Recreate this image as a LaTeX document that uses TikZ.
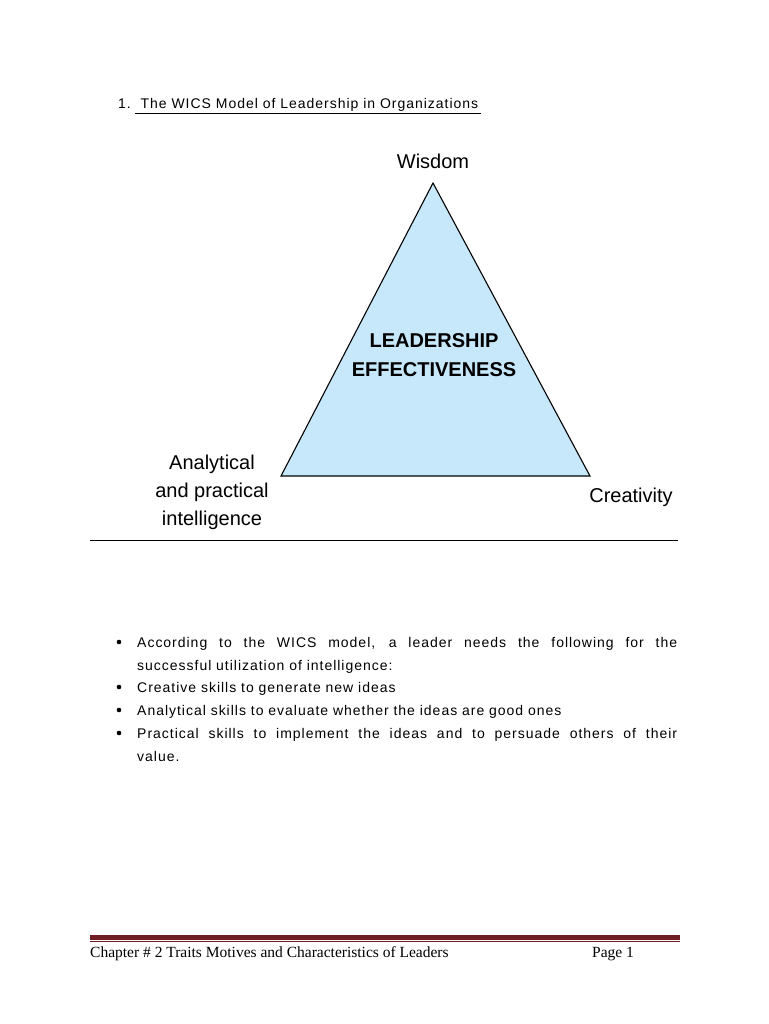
\documentclass[tikz,border=0pt]{standalone}
\usepackage{fontspec}
\setmainfont{Liberation Sans}
\newfontfamily\serifft{Liberation Serif}
\newfontfamily\spaced[LetterSpace=7]{Liberation Sans}
\definecolor{tri}{RGB}{198,232,250}
\definecolor{dred}{RGB}{110,30,35}
\tikzset{body/.style={anchor=base west,inner sep=0pt,font=\spaced\fontsize{14}{16}\selectfont},
lab/.style={inner sep=0pt,font=\fontsize{20}{28}\selectfont,align=center},
foot/.style={anchor=base west,inner sep=0pt,font=\serifft\fontsize{15.5}{18}\selectfont}}
\begin{document}
\begin{tikzpicture}[x=1pt,y=-1pt]
\useasboundingbox (0,0) rectangle (768,1024);
\node[body] (title) at (118,109) {1.\ \ The WICS Model of Leadership in Organizations};
\draw[line width=0.8] (135,113) -- (481,113);
\coordinate (A) at (433,183);
\coordinate (B) at (281,476);
\coordinate (C) at (590,476);
\draw[fill=tri,line width=1.1] (A) -- (B) -- (C) -- cycle;
\node[lab] (w) at (433,161) {Wisdom};
\node[lab,font=\bfseries\fontsize{20}{29}\selectfont] (le) at (434,355) {LEADERSHIP\\EFFECTIVENESS};
\node[lab] (an) at (212,492) {Analytical\\and practical\\intelligence};
\node[lab] (cr) at (631,497) {Creativity};
\draw[line width=0.8] (90,540) -- (678,540);
\foreach \y in {642,687,710,733} \fill (119,\y) circle (2.3);
\node[body] (b1) at (137,647) {\makebox[540pt][s]{According to the WICS model, a leader needs the following for the}};
\node[body] (b1b) at (137,670) {successful utilization of intelligence:};
\node[body] (b2) at (137,692) {Creative skills to generate new ideas};
\node[body] (b3) at (137,715) {Analytical skills to evaluate whether the ideas are good ones};
\node[body] (b4) at (137,738) {\makebox[540pt][s]{Practical skills to implement the ideas and to persuade others of their}};
\node[body] (b4b) at (137,761) {value.};
\fill[dred] (90,935) rectangle (680,939.5);
\draw[dred,line width=0.8] (90,941.5) -- (680,941.5);
\node[foot] (f1) at (90,957) {Chapter \# 2 Traits Motives and Characteristics of Leaders};
\node[foot] (f2) at (592,957) {Page 1};
\end{tikzpicture}
\end{document}
